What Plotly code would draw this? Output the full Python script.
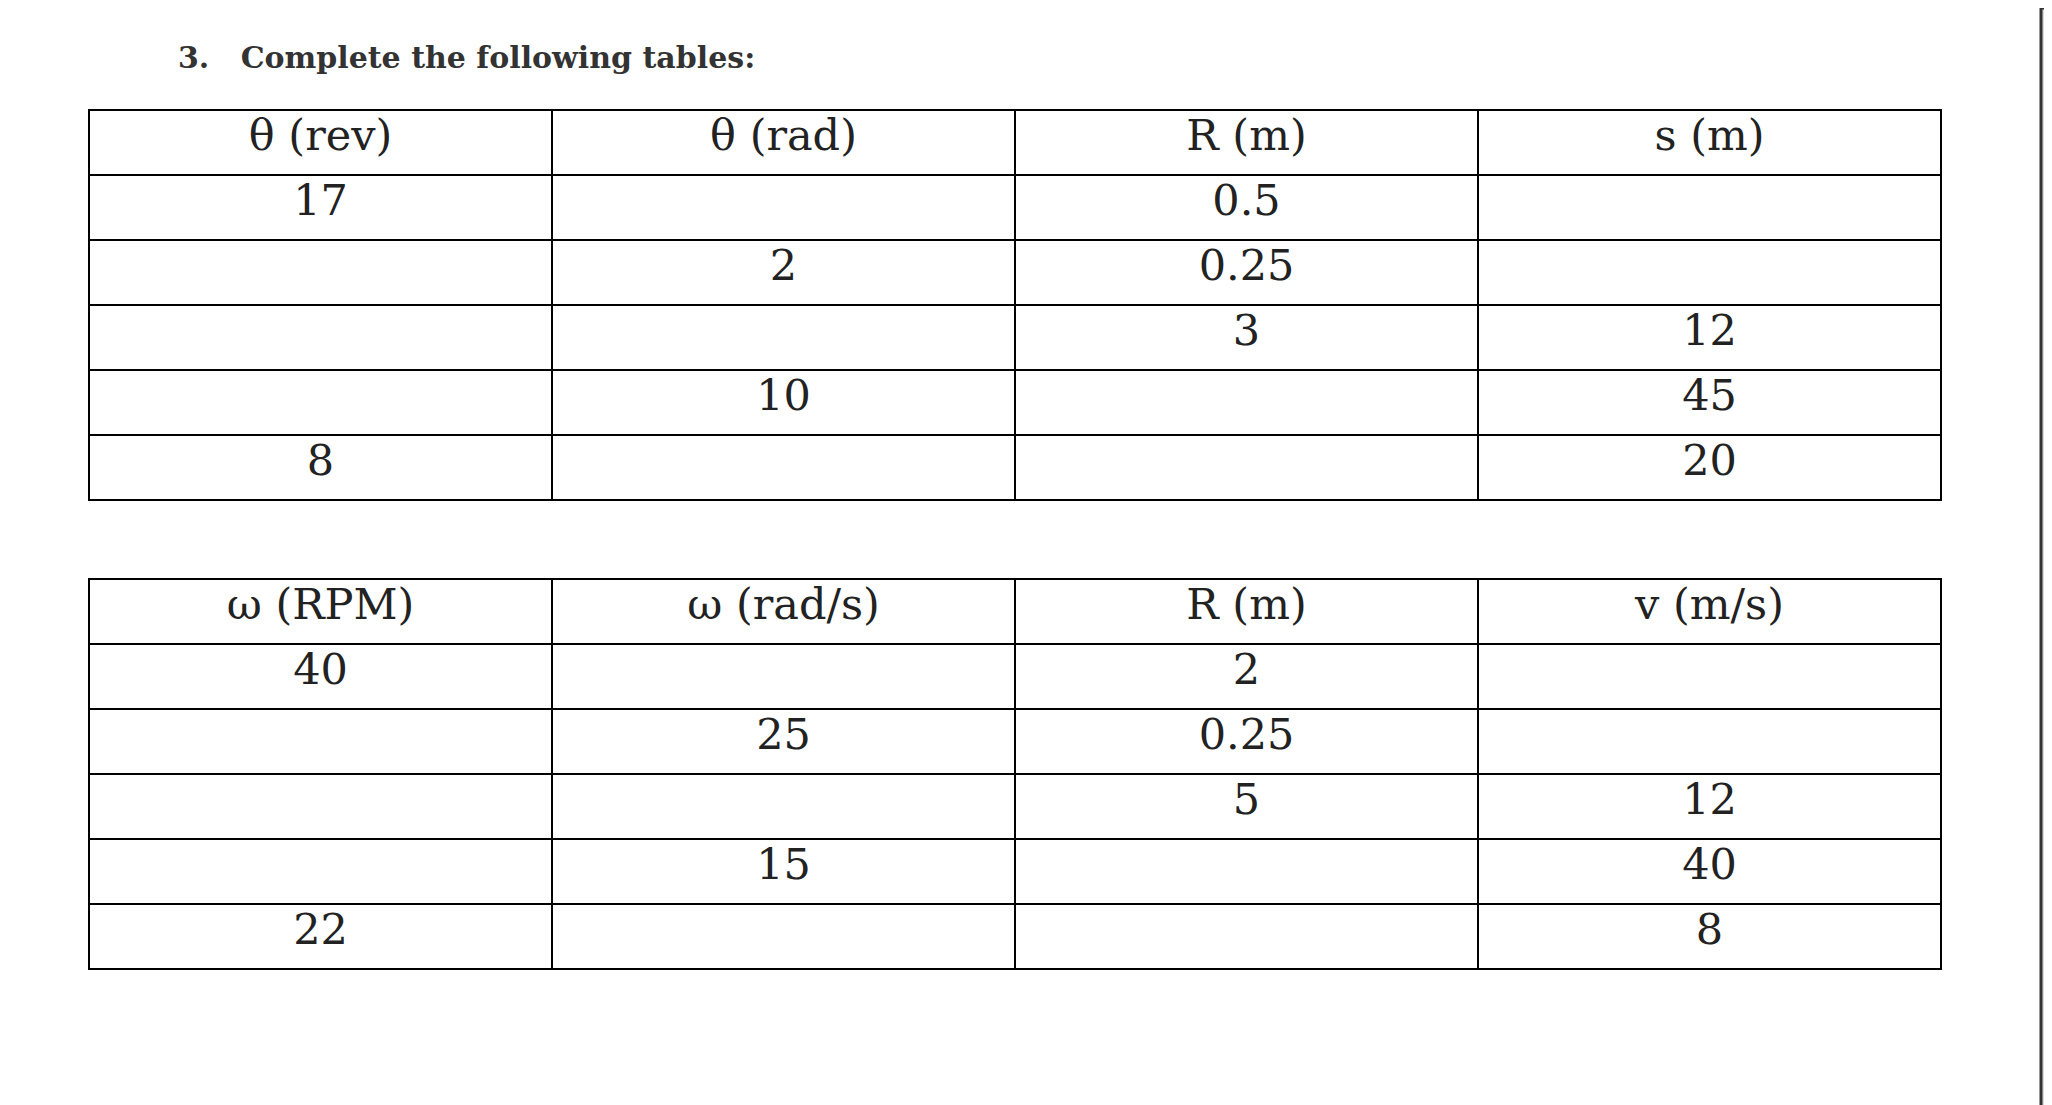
import plotly.graph_objects as go

hdr1 = ["θ (rev)", "θ (rad)", "R (m)", "s (m)"]
t1_rev = ["17", "", "", "", "8"]
t1_rad = ["", "2", "", "10", ""]
t1_R = ["0.5", "0.25", "3", "", ""]
t1_s = ["", "", "12", "45", "20"]

hdr2 = ["ω (RPM)", "ω (rad/s)", "R (m)", "v (m/s)"]
t2_rpm = ["40", "", "", "", "22"]
t2_rads = ["", "25", "", "15", ""]
t2_R = ["2", "0.25", "5", "", ""]
t2_v = ["", "", "12", "40", "8"]

W, H = 2052, 1105
font = dict(family="DejaVu Serif", size=43, color="#222")

def table(hdr, cols, top, bottom):
    return go.Table(
        domain=dict(x=[81 / W, 1933 / W], y=[1 - bottom / H, 1 - top / H]),
        columnwidth=[1, 1, 1, 1],
        header=dict(values=hdr, height=65, align="center", font=font,
                    line=dict(color="black", width=2), fill_color="white"),
        cells=dict(values=cols, height=65, align="center", font=font,
                   line=dict(color="black", width=2), fill_color="white"),
    )

fig = go.Figure([
    table(hdr1, [t1_rev, t1_rad, t1_R, t1_s], 102, 494),
    table(hdr2, [t2_rpm, t2_rads, t2_R, t2_v], 571, 963),
])
fig.update_layout(
    width=W, height=H, margin=dict(l=0, r=0, t=0, b=0),
    paper_bgcolor="white", plot_bgcolor="white",
    annotations=[dict(text="<b>3.   Complete the following tables:</b>", x=168 / W, y=1 - 50 / H,
                      xref="paper", yref="paper", xanchor="left", yanchor="middle",
                      showarrow=False, font=dict(family="DejaVu Serif", size=30, color="#333"))],
    shapes=[
        dict(type="rect", xref="paper", yref="paper", x0=2033 / W, x1=1, y0=0, y1=1,
             fillcolor="#d8d8d8", line=dict(color="#333", width=3), layer="above"),
        dict(type="rect", xref="paper", yref="paper", x0=0, x1=1, y0=0, y1=6 / H,
             fillcolor="#3a3a3a", line_width=0, layer="above"),
    ],
)
fig.write_html("out.html")
